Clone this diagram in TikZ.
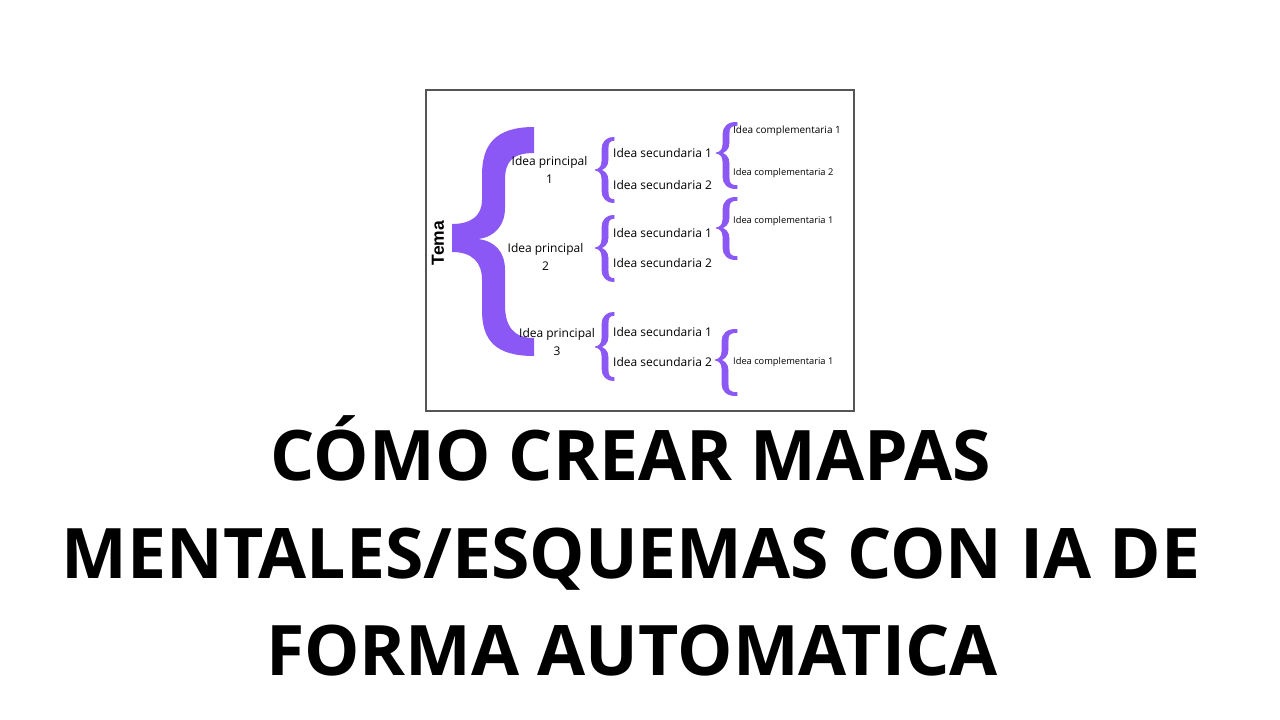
\documentclass[tikz,border=0pt]{standalone}
\usepackage{fontspec}
\setmainfont{Open Sans}
\newfontfamily\temafont{Liberation Sans}
\definecolor{bpurple}{RGB}{139,88,245}
\definecolor{framegray}{RGB}{85,85,85}
% #1 tip x, #2 stem x, #3 end x, #4 top y, #5 tip y, #6 bottom y
\newcommand\mybrace[6]{%
  \filldraw[brc] (#3,{#4-1.6})
    .. controls ({#2+2},{#4-2}) and ({#2-3},{#4+3}) .. ({#2-3},{#4+10})
    -- ({#2-3},{#5-9})
    .. controls ({#2-3},{#5-3}) and ({#1+4},{#5-0.6}) .. (#1,#5)
    .. controls ({#1+4},{#5+0.6}) and ({#2-3},{#5+3}) .. ({#2-3},{#5+9})
    -- ({#2-3},{#6-10})
    .. controls ({#2-3},{#6-3}) and ({#2+2},{#6+2}) .. (#3,{#6+1.6})
    -- (#3,{#6-1.4})
    .. controls ({#2+4},{#6-1.6}) and ({#2+3},{#6-4}) .. ({#2+3},{#6-10})
    -- ({#2+3},{#5+10})
    .. controls ({#2+3},{#5+4}) and ({#2-1},{#5+0.6}) .. ({#1+5},#5)
    .. controls ({#2-1},{#5-0.6}) and ({#2+3},{#5-4}) .. ({#2+3},{#5-10})
    -- ({#2+3},{#4+10})
    .. controls ({#2+3},{#4+4}) and ({#2+4},{#4+1.6}) .. (#3,{#4+1.4})
    -- cycle;}
\tikzset{
  brc/.style={fill=bpurple, draw=bpurple, line width=0.8pt, line join=round},
  titletxt/.style={anchor=base, inner sep=0pt, font=\fontsize{69.7}{80}\selectfont\bfseries},
  sectxt/.style={anchor=west, inner sep=0pt, font=\fontsize{12}{14}\selectfont},
  comptxt/.style={anchor=west, inner sep=0pt, font=\fontsize{9.3}{11}\selectfont},
  prtxt/.style={align=center, inner sep=0pt, font=\fontsize{12}{18}\selectfont},
}
\begin{document}
\begin{tikzpicture}[x=1pt,y=-1pt]
\useasboundingbox (0,0) rectangle (1280,720);
\fill[white] (0,0) rectangle (1280,720);
% frame
\draw[framegray, line width=2.6pt, fill=white] (426,90) rectangle (854,411);
% big brace
\fill[bpurple] (534,127) .. controls (495,127) and (482,145) .. (482,175) -- (482,200)
  .. controls (482,215) and (472,224) .. (452,224) -- (452,252)
  .. controls (472,252) and (482,262) .. (482,280) -- (482,310)
  .. controls (482,340) and (495,356) .. (534,356) -- (534,338)
  .. controls (515,338) and (505,328) .. (505,305) -- (505,270)
  .. controls (505,252) and (495,241) .. (478,239)
  .. controls (495,237) and (505,225) .. (505,208) -- (505,180)
  .. controls (505,162) and (512,153) .. (534,153) -- cycle;
% Tema
\node[rotate=90, inner sep=0pt, font=\temafont\fontsize{17.5}{20}\selectfont\bfseries] (tema) at (438,243) {Tema};
% principal ideas
\node[prtxt] (p1) at (549.5,170) {Idea principal\\1};
\node[prtxt] (p2) at (545.5,257) {Idea principal\\2};
\node[prtxt] (p3) at (557,342) {Idea principal\\3};
% secondary braces
\mybrace{595}{605}{614}{139}{170}{201}
\mybrace{595}{605}{614}{217}{248}{280}
\mybrace{595}{605}{614}{314}{347}{379}
% secondary ideas
\node[sectxt] (s11) at (613,153) {Idea secundaria 1};
\node[sectxt] (s12) at (613,185) {Idea secundaria 2};
\node[sectxt] (s21) at (613,233) {Idea secundaria 1};
\node[sectxt] (s22) at (613,263) {Idea secundaria 2};
\node[sectxt] (s31) at (613,331.5) {Idea secundaria 1};
\node[sectxt] (s32) at (613,361.5) {Idea secundaria 2};
% complementary braces
\mybrace{716}{726}{737}{124}{153}{187}
\mybrace{716}{726}{737}{199}{228}{258}
\mybrace{715}{725}{737}{331}{360}{394}
% complementary ideas
\node[comptxt, font=\fontsize{10}{12}\selectfont] (c11) at (733,131) {Idea complementaria 1};
\node[comptxt] (c12) at (733,173) {Idea complementaria 2};
\node[comptxt] (c21) at (733,221) {Idea complementaria 1};
\node[comptxt] (c31) at (733,362) {Idea complementaria 1};
% title
\node[titletxt] (t1) at (631,480) {CÓMO CREAR MAPAS};
\node[titletxt] (t2) at (631,578) {MENTALES/ESQUEMAS CON IA DE};
\node[titletxt] (t3) at (632,675) {FORMA AUTOMATICA};
\end{tikzpicture}
\end{document}
